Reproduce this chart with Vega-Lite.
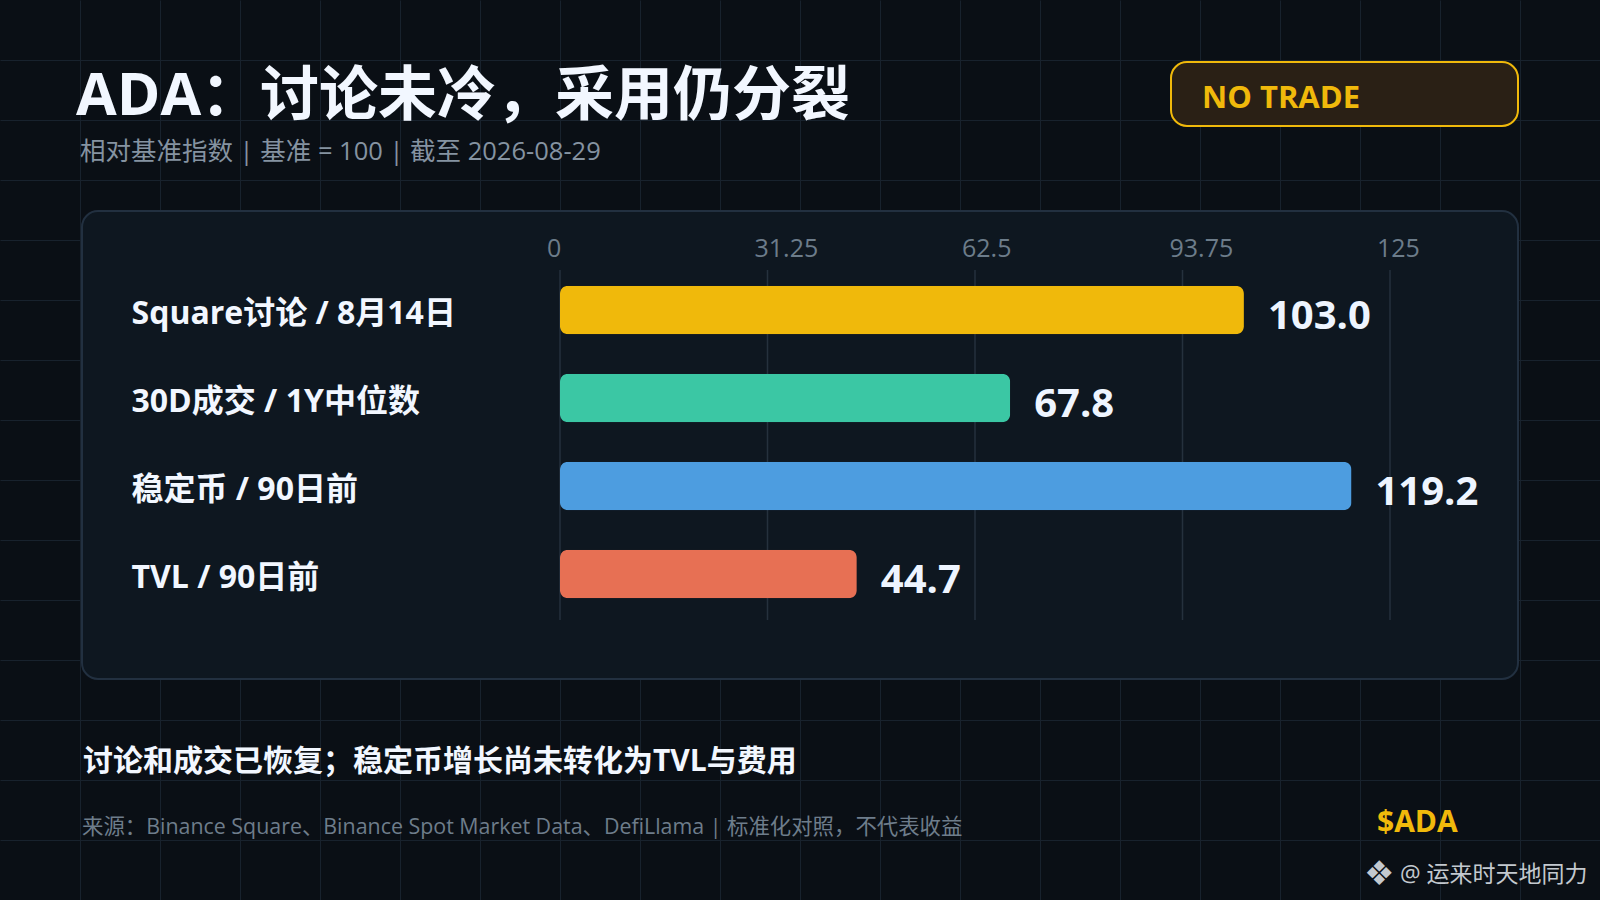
{
  "$schema": "https://vega.github.io/schema/vega-lite/v6.json",
  "description": "ADA relative-to-baseline index bars, dark card layout.",
  "width": 1600,
  "height": 900,
  "autosize": "none",
  "padding": 0,
  "background": "#0a0f15",
  "config": {
    "view": {"stroke": null},
    "font": "Open Sans, Noto Sans CJK SC, sans-serif",
    "text": {"font": "Open Sans, Noto Sans CJK SC, sans-serif"}
  },
  "resolve": {
    "scale": {"x": "independent", "y": "independent", "color": "independent"},
    "axis": {"x": "independent", "y": "independent"}
  },
  "layer": [
    {
      "data": {"values": [{}]},
      "mark": {"type": "point", "opacity": 0},
      "encoding": {
        "x": {
          "datum": 800, "type": "quantitative",
          "scale": {"domain": [0, 1600], "range": [0, 1600], "nice": false, "zero": false},
          "axis": {
            "orient": "bottom", "title": null, "labels": false, "ticks": false, "domain": false,
            "grid": true, "gridColor": "#18222d", "gridWidth": 1,
            "values": [80, 160, 240, 320, 400, 480, 560, 640, 720, 800, 880, 960, 1040, 1120, 1200, 1280, 1360, 1440, 1520]
          }
        },
        "y": {
          "datum": 450, "type": "quantitative",
          "scale": {"domain": [0, 900], "range": [0, 900], "nice": false, "zero": false},
          "axis": {
            "orient": "right", "title": null, "labels": false, "ticks": false, "domain": false,
            "grid": true, "gridColor": "#18222d", "gridWidth": 1,
            "values": [60, 120, 180, 240, 300, 360, 420, 480, 540, 600, 660, 720, 780, 840]
          }
        }
      }
    },
    {
      "data": {"values": [{}]},
      "layer": [
        {
          "mark": {"type": "rect", "fill": "#0e1720", "stroke": "#223040", "strokeWidth": 2, "cornerRadius": 16},
          "encoding": {
            "x": {
              "datum": 82, "type": "quantitative",
              "scale": {"domain": [0, 1600], "range": [0, 1600], "nice": false, "zero": false},
              "axis": null
            },
            "x2": {"datum": 1518},
            "y": {
              "datum": 211, "type": "quantitative",
              "scale": {"domain": [0, 900], "range": [0, 900], "nice": false, "zero": false},
              "axis": null
            },
            "y2": {"datum": 679}
          }
        },
        {
          "mark": {"type": "rect", "fill": "#2a2015", "stroke": "#f0b90b", "strokeWidth": 2, "cornerRadius": 16},
          "encoding": {
            "x": {"datum": 1171, "type": "quantitative", "axis": null},
            "x2": {"datum": 1518},
            "y": {"datum": 62, "type": "quantitative", "axis": null},
            "y2": {"datum": 126}
          }
        },
        {
          "mark": {"type": "text", "text": "ADA：讨论未冷，采用仍分裂", "fontSize": 59, "fontWeight": "bold", "color": "#f2f7ff", "align": "left", "baseline": "alphabetic"},
          "encoding": {
            "x": {"datum": 76, "type": "quantitative", "axis": null},
            "y": {"datum": 115, "type": "quantitative", "axis": null}
          }
        },
        {
          "mark": {"type": "text", "text": "相对基准指数 | 基准 = 100 | 截至 2026-08-29", "fontSize": 25.5, "color": "#8593a1", "align": "left", "baseline": "alphabetic"},
          "encoding": {
            "x": {"datum": 80, "type": "quantitative", "axis": null},
            "y": {"datum": 160, "type": "quantitative", "axis": null}
          }
        },
        {
          "mark": {"type": "text", "text": "NO TRADE", "fontSize": 31, "fontWeight": "bold", "color": "#f0b90b", "align": "left", "baseline": "alphabetic"},
          "encoding": {
            "x": {"datum": 1202, "type": "quantitative", "axis": null},
            "y": {"datum": 108, "type": "quantitative", "axis": null}
          }
        },
        {
          "mark": {"type": "text", "text": "讨论和成交已恢复；稳定币增长尚未转化为TVL与费用", "fontSize": 30, "fontWeight": "bold", "color": "#f2f7ff", "align": "left", "baseline": "alphabetic"},
          "encoding": {
            "x": {"datum": 83, "type": "quantitative", "axis": null},
            "y": {"datum": 771, "type": "quantitative", "axis": null}
          }
        },
        {
          "mark": {"type": "text", "text": "来源：Binance Square、Binance Spot Market Data、DefiLlama | 标准化对照，不代表收益", "fontSize": 21.4, "color": "#6e7d8b", "align": "left", "baseline": "alphabetic"},
          "encoding": {
            "x": {"datum": 82, "type": "quantitative", "axis": null},
            "y": {"datum": 834, "type": "quantitative", "axis": null}
          }
        },
        {
          "mark": {"type": "text", "text": "$ADA", "fontSize": 30, "fontWeight": "bold", "color": "#f0b90b", "align": "left", "baseline": "alphabetic"},
          "encoding": {
            "x": {"datum": 1377, "type": "quantitative", "axis": null},
            "y": {"datum": 832, "type": "quantitative", "axis": null}
          }
        },
        {
          "mark": {"type": "text", "text": "❖", "font": "DejaVu Sans", "fontSize": 34, "color": "#c3c9cf", "align": "left", "baseline": "alphabetic"},
          "encoding": {
            "x": {"datum": 1364, "type": "quantitative", "axis": null},
            "y": {"datum": 885, "type": "quantitative", "axis": null}
          }
        },
        {
          "mark": {"type": "text", "text": "@ 运来时天地同力", "fontSize": 23, "color": "#c3c9cf", "align": "left", "baseline": "alphabetic"},
          "encoding": {
            "x": {"datum": 1400, "type": "quantitative", "axis": null},
            "y": {"datum": 882, "type": "quantitative", "axis": null}
          }
        }
      ]
    },
    {
      "data": {
        "values": [
          {"metric": "Square讨论 / 8月14日", "value": 103.0},
          {"metric": "30D成交 / 1Y中位数", "value": 67.8},
          {"metric": "稳定币 / 90日前", "value": 119.2},
          {"metric": "TVL / 90日前", "value": 44.7}
        ]
      },
      "resolve": {"scale": {"y": "independent"}},
      "layer": [
        {
          "data": {"values": [{"tick": 0}, {"tick": 31.25}, {"tick": 62.5}, {"tick": 93.75}, {"tick": 125}]},
          "mark": {"type": "rule", "color": "#25313d", "strokeWidth": 1.5},
          "encoding": {
            "x": {
              "field": "tick", "type": "quantitative",
              "scale": {"domain": [0, 125], "range": [560, 1390], "nice": false, "zero": false},
              "axis": null
            },
            "y": {
              "datum": 270, "type": "quantitative",
              "scale": {"domain": [0, 900], "range": [0, 900], "nice": false, "zero": false},
              "axis": null
            },
            "y2": {"datum": 620}
          }
        },
        {
          "data": {"values": [{"tick": 0}, {"tick": 31.25}, {"tick": 62.5}, {"tick": 93.75}, {"tick": 125}]},
          "mark": {"type": "text", "align": "left", "baseline": "alphabetic", "dx": -13, "fontSize": 25, "color": "#6c7c8a"},
          "encoding": {
            "x": {"field": "tick", "type": "quantitative", "axis": null},
            "y": {
              "datum": 257, "type": "quantitative",
              "scale": {"domain": [0, 900], "range": [0, 900], "nice": false, "zero": false},
              "axis": null
            },
            "text": {"field": "tick", "type": "nominal"}
          }
        },
        {
          "mark": {"type": "bar", "cornerRadius": 8},
          "encoding": {
            "x": {"field": "value", "type": "quantitative", "axis": null},
            "y": {
              "field": "metric", "type": "nominal", "sort": null,
              "scale": {"range": [266, 618], "paddingInner": 0.45, "paddingOuter": 0.225},
              "axis": {
                "orient": "left", "offset": -131, "title": null, "grid": false,
                "ticks": false, "tickSize": 0, "domain": false,
                "labelAlign": "left", "labelBaseline": "alphabetic", "labelOffset": 14, "labelPadding": 0,
                "labelLimit": 600, "labelFontSize": 32, "labelFontWeight": "bold", "labelColor": "#f2f7ff",
                "labelFont": "Open Sans, Noto Sans CJK SC, sans-serif",
                "zindex": 1
              }
            },
            "color": {
              "field": "metric", "type": "nominal", "legend": null,
              "scale": {
                "domain": ["Square讨论 / 8月14日", "30D成交 / 1Y中位数", "稳定币 / 90日前", "TVL / 90日前"],
                "range": ["#f0b90b", "#3bc7a4", "#4d9de0", "#e77054"]
              }
            }
          }
        },
        {
          "mark": {"type": "text", "align": "left", "baseline": "alphabetic", "dx": 24, "dy": 19, "fontSize": 40, "fontWeight": "bold", "color": "#eef5ff"},
          "encoding": {
            "x": {"field": "value", "type": "quantitative", "axis": null},
            "y": {
              "field": "metric", "type": "nominal", "sort": null,
              "scale": {"range": [266, 618], "paddingInner": 0.45, "paddingOuter": 0.225},
              "axis": null
            },
            "text": {"field": "value", "type": "quantitative", "format": ".1f"}
          }
        }
      ]
    }
  ]
}
